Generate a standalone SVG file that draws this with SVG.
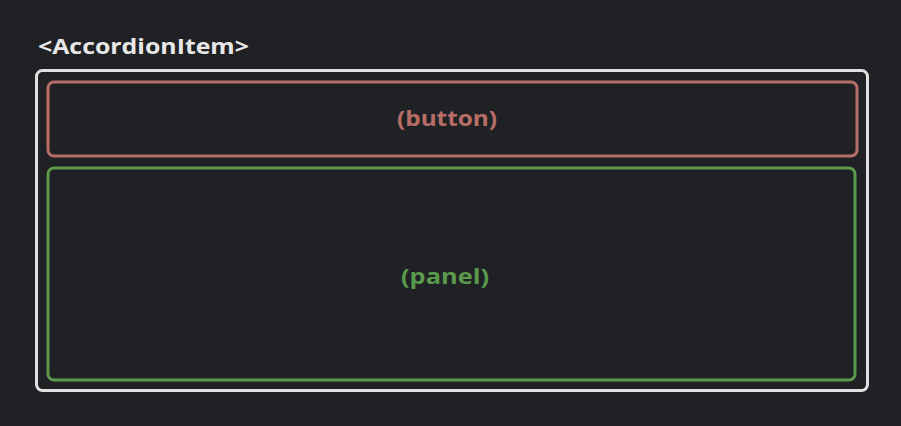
<svg xmlns="http://www.w3.org/2000/svg" width="901" height="426" viewBox="0 0 901 426">
<style>
.t{font-family:"Open Sans","Noto Sans",sans-serif;font-weight:700}
.box{fill:none;stroke-width:3}
</style>
<rect width="901" height="426" fill="#202124"/>
<text class="t" x="38" y="54" font-size="22" fill="#e8e8e8" textLength="211" lengthAdjust="spacingAndGlyphs">&lt;AccordionItem&gt;</text>
<g id="accordionItem"><rect class="box" x="36.5" y="70.5" width="831" height="320" rx="6" stroke="#e0e0e0"/></g>
<g id="button"><rect class="box" x="48" y="82" width="809" height="74" rx="6" stroke="#b86e68"/>
<text class="t" x="397" y="126" font-size="22" fill="#b86e68" textLength="100" lengthAdjust="spacingAndGlyphs">(button)</text></g>
<g id="panel"><rect class="box" x="48" y="168" width="807" height="212" rx="6" stroke="#5a9a4c"/>
<text class="t" x="401" y="284" font-size="22" fill="#5a9a4c" textLength="88" lengthAdjust="spacingAndGlyphs">(panel)</text></g>
<g id="connectors"/>
</svg>
